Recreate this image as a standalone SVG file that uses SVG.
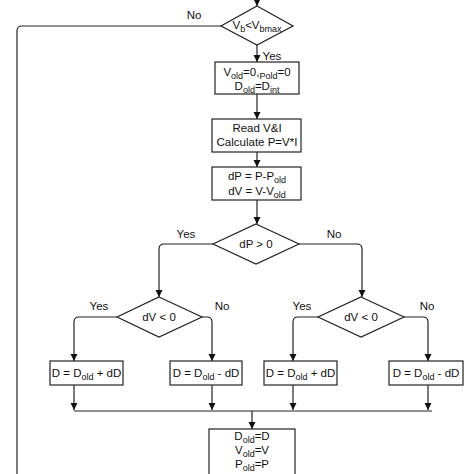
<svg xmlns="http://www.w3.org/2000/svg" width="474" height="474" viewBox="0 0 474 474">
<defs>
<marker id="ah" markerWidth="8" markerHeight="8" refX="7" refY="4" orient="auto" markerUnits="userSpaceOnUse">
<path d="M0,0.5 L7,4 L0,7.5 Z" fill="#111"/>
</marker>
<style>
.n{fill:#fff;stroke:#222;stroke-width:1.2}
.c{fill:none;stroke:#222;stroke-width:1.2}
.a{marker-end:url(#ah)}
text{font-family:"Liberation Sans",Arial,sans-serif;font-size:11.5px;fill:#111;text-anchor:middle}
.s{font-size:9px}
.l{font-size:11.5px}
</style>
</defs>
<rect width="474" height="474" fill="#fff"/>
<g id="connectors">
<path class="c a" d="M257,-2 V6"/>
<path class="c" d="M221,26 H22 Q17,26 17,31 V476"/>
<path class="c a" d="M257,45 V62"/>
<path class="c a" d="M257,94 V119"/>
<path class="c a" d="M257,152 V167"/>
<path class="c a" d="M257,200 V224"/>
<path class="c a" d="M213,244 H164 Q159,244 159,249 V297"/>
<path class="c a" d="M299,244 H357 Q362,244 362,249 V297"/>
<path class="c a" d="M117,317 H79 Q74,317 74,322 V361"/>
<path class="c a" d="M202,317 H207 Q212,317 212,322 V361"/>
<path class="c a" d="M318,317 H298 Q293,317 293,322 V361"/>
<path class="c a" d="M404,317 H423 Q428,317 428,322 V361"/>
<path class="c a" d="M74,385 V410"/>
<path class="c a" d="M212,385 V410"/>
<path class="c a" d="M293,385 V410"/>
<path class="c a" d="M428,385 V410"/>
<path class="c" d="M74,411 H432"/>
<path class="c a" d="M252,411 V429"/>
<text class="l" x="194" y="19">No</text>
<text class="l" x="272" y="60">Yes</text>
<text class="l" x="186" y="238">Yes</text>
<text class="l" x="334" y="238">No</text>
<text class="l" x="99" y="310">Yes</text>
<text class="l" x="222" y="310">No</text>
<text class="l" x="302" y="310">Yes</text>
<text class="l" x="427" y="310">No</text>
</g>
<g id="n_vb">
<path class="n" d="M257,6 L293,26 L257,45 L221,26 Z"/>
<text x="257" y="29">V<tspan class="s" dy="3">b</tspan><tspan dy="-3">&lt;V</tspan><tspan class="s" dy="3">bmax</tspan></text>
</g>
<g id="n_init">
<rect class="n" x="215" y="62" width="84" height="32"/>
<text x="257" y="76">V<tspan class="s" dy="3">old</tspan><tspan dy="-3">=0,</tspan><tspan class="s" dy="3">Pold</tspan><tspan dy="-3">=0</tspan></text>
<text x="257" y="90">D<tspan class="s" dy="3">old</tspan><tspan dy="-3">=D</tspan><tspan class="s" dy="3">int</tspan></text>
</g>
<g id="n_read">
<rect class="n" x="212" y="119" width="89" height="33"/>
<text x="257" y="132">Read V&amp;I</text>
<text x="257" y="146">Calculate P=V*I</text>
</g>
<g id="n_diff">
<rect class="n" x="212" y="167" width="89" height="33"/>
<text x="257" y="180">dP = P-P<tspan class="s" dy="3">old</tspan></text>
<text x="257" y="195">dV = V-V<tspan class="s" dy="3">old</tspan></text>
</g>
<g id="n_dp">
<path class="n" d="M256,224 L299,244 L256,264 L213,244 Z"/>
<text x="256" y="248">dP &gt; 0</text>
</g>
<g id="n_dvl">
<path class="n" d="M159,297 L202,317 L159,337 L117,317 Z"/>
<text x="159" y="321">dV &lt; 0</text>
</g>
<g id="n_dvr">
<path class="n" d="M361,297 L404,317 L361,337 L318,317 Z"/>
<text x="361" y="321">dV &lt; 0</text>
</g>
<g id="n_b1">
<rect class="n" x="50" y="361" width="73" height="24"/>
<text x="86.5" y="377">D = D<tspan class="s" dy="3">old</tspan><tspan dy="-3"> + dD</tspan></text>
</g>
<g id="n_b2">
<rect class="n" x="170" y="361" width="72" height="24"/>
<text x="206" y="377">D = D<tspan class="s" dy="3">old</tspan><tspan dy="-3"> - dD</tspan></text>
</g>
<g id="n_b3">
<rect class="n" x="264" y="361" width="73" height="24"/>
<text x="300.5" y="377">D = D<tspan class="s" dy="3">old</tspan><tspan dy="-3"> + dD</tspan></text>
</g>
<g id="n_b4">
<rect class="n" x="389" y="361" width="74" height="24"/>
<text x="426" y="377">D = D<tspan class="s" dy="3">old</tspan><tspan dy="-3"> - dD</tspan></text>
</g>
<g id="n_update">
<rect class="n" x="209" y="429" width="86" height="50"/>
<text x="252" y="440">D<tspan class="s" dy="2.5">old</tspan><tspan dy="-2.5">=D</tspan></text>
<text x="252" y="454">V<tspan class="s" dy="2.5">old</tspan><tspan dy="-2.5">=V</tspan></text>
<text x="252" y="468">P<tspan class="s" dy="2.5">old</tspan><tspan dy="-2.5">=P</tspan></text>
</g>
</svg>
